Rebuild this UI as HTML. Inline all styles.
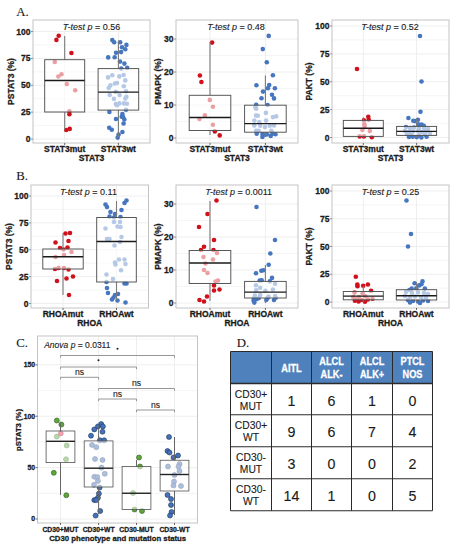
<!DOCTYPE html>
<html><head><meta charset="utf-8"><style>
html,body{margin:0;padding:0;background:#fff;}
body{width:456px;height:550px;overflow:hidden;position:relative;}
svg{position:absolute;left:0;top:0;font-family:"Liberation Sans",sans-serif;}
text{stroke:#1a1a1a;stroke-width:0.28px;}
text.w{stroke:#fff;}
text.n{stroke-width:0.12px;}
</style></head><body>
<svg width="456" height="550" viewBox="0 0 456 550">
<text x="16.2" y="16.0" class="n" font-family="Liberation Serif, serif" font-size="12.8" fill="#1a1a1a">A.</text>
<rect x="33" y="20" width="117" height="123" fill="#fff"/>
<line x1="33" x2="150" y1="125.5625" y2="125.5625" stroke="#eeeeee" stroke-width="0.6"/>
<line x1="33" x2="150" y1="98.6875" y2="98.6875" stroke="#eeeeee" stroke-width="0.6"/>
<line x1="33" x2="150" y1="71.8125" y2="71.8125" stroke="#eeeeee" stroke-width="0.6"/>
<line x1="33" x2="150" y1="44.9375" y2="44.9375" stroke="#eeeeee" stroke-width="0.6"/>
<line x1="33" x2="150" y1="139.0" y2="139.0" stroke="#eeeeee" stroke-width="1"/>
<line x1="33" x2="150" y1="112.125" y2="112.125" stroke="#eeeeee" stroke-width="1"/>
<line x1="33" x2="150" y1="85.25" y2="85.25" stroke="#eeeeee" stroke-width="1"/>
<line x1="33" x2="150" y1="58.375" y2="58.375" stroke="#eeeeee" stroke-width="1"/>
<line x1="33" x2="150" y1="31.5" y2="31.5" stroke="#eeeeee" stroke-width="1"/>
<line x1="64.7" x2="64.7" y1="20" y2="143" stroke="#eeeeee" stroke-width="1"/>
<line x1="118.4" x2="118.4" y1="20" y2="143" stroke="#eeeeee" stroke-width="1"/>
<circle cx="58.7" cy="35.8" r="2.3" fill="#d0101a"/>
<circle cx="56.4" cy="39.9" r="2.3" fill="#d0101a"/>
<circle cx="71.4" cy="53" r="2.3" fill="#d0101a"/>
<circle cx="54.8" cy="62" r="2.3" fill="#d0101a"/>
<circle cx="61.5" cy="74.2" r="2.3" fill="#d0101a"/>
<circle cx="58.3" cy="76.5" r="2.3" fill="#d0101a"/>
<circle cx="66.8" cy="84.1" r="2.3" fill="#d0101a"/>
<circle cx="75.2" cy="90.2" r="2.3" fill="#d0101a"/>
<circle cx="69.4" cy="111.4" r="2.3" fill="#d0101a"/>
<circle cx="69.4" cy="114.3" r="2.3" fill="#d0101a"/>
<circle cx="66.2" cy="130" r="2.3" fill="#d0101a"/>
<circle cx="69.7" cy="128.9" r="2.3" fill="#d0101a"/>
<circle cx="112.3" cy="40.1" r="2.3" fill="#4676c0"/>
<circle cx="114.2" cy="42.3" r="2.3" fill="#4676c0"/>
<circle cx="120.2" cy="42.3" r="2.3" fill="#4676c0"/>
<circle cx="126.4" cy="44.9" r="2.3" fill="#4676c0"/>
<circle cx="122" cy="47.3" r="2.3" fill="#4676c0"/>
<circle cx="125.3" cy="49.3" r="2.3" fill="#4676c0"/>
<circle cx="121.1" cy="52.1" r="2.3" fill="#4676c0"/>
<circle cx="116.1" cy="52.8" r="2.3" fill="#4676c0"/>
<circle cx="108.2" cy="57.4" r="2.3" fill="#4676c0"/>
<circle cx="114.7" cy="57.2" r="2.3" fill="#4676c0"/>
<circle cx="120" cy="61.6" r="2.3" fill="#4676c0"/>
<circle cx="124.4" cy="63.6" r="2.3" fill="#4676c0"/>
<circle cx="121.3" cy="68.6" r="2.3" fill="#4676c0"/>
<circle cx="127.2" cy="67.9" r="2.3" fill="#4676c0"/>
<circle cx="108" cy="77.4" r="2.3" fill="#4676c0"/>
<circle cx="112.3" cy="75.2" r="2.3" fill="#4676c0"/>
<circle cx="119.3" cy="76.4" r="2.3" fill="#4676c0"/>
<circle cx="123.6" cy="75" r="2.3" fill="#4676c0"/>
<circle cx="125.3" cy="80.4" r="2.3" fill="#4676c0"/>
<circle cx="114.9" cy="83.5" r="2.3" fill="#4676c0"/>
<circle cx="117" cy="83" r="2.3" fill="#4676c0"/>
<circle cx="110.4" cy="85.4" r="2.3" fill="#4676c0"/>
<circle cx="108.7" cy="88" r="2.3" fill="#4676c0"/>
<circle cx="123.8" cy="86.3" r="2.3" fill="#4676c0"/>
<circle cx="115.8" cy="91.8" r="2.3" fill="#4676c0"/>
<circle cx="126" cy="91.3" r="2.3" fill="#4676c0"/>
<circle cx="109.7" cy="94.9" r="2.3" fill="#4676c0"/>
<circle cx="119.6" cy="95.1" r="2.3" fill="#4676c0"/>
<circle cx="126.4" cy="96.7" r="2.3" fill="#4676c0"/>
<circle cx="113.9" cy="98.9" r="2.3" fill="#4676c0"/>
<circle cx="125.3" cy="98.6" r="2.3" fill="#4676c0"/>
<circle cx="115.8" cy="104.1" r="2.3" fill="#4676c0"/>
<circle cx="119.4" cy="103.4" r="2.3" fill="#4676c0"/>
<circle cx="117" cy="105.3" r="2.3" fill="#4676c0"/>
<circle cx="123.8" cy="103.4" r="2.3" fill="#4676c0"/>
<circle cx="126.9" cy="103.8" r="2.3" fill="#4676c0"/>
<circle cx="126" cy="109.8" r="2.3" fill="#4676c0"/>
<circle cx="109.4" cy="111.9" r="2.3" fill="#4676c0"/>
<circle cx="122.4" cy="114" r="2.3" fill="#4676c0"/>
<circle cx="121.7" cy="116.8" r="2.3" fill="#4676c0"/>
<circle cx="122.9" cy="116.6" r="2.3" fill="#4676c0"/>
<circle cx="116" cy="119" r="2.3" fill="#4676c0"/>
<circle cx="124.3" cy="119.4" r="2.3" fill="#4676c0"/>
<circle cx="123.6" cy="123.5" r="2.3" fill="#4676c0"/>
<circle cx="109.2" cy="127.7" r="2.3" fill="#4676c0"/>
<circle cx="111.8" cy="129.8" r="2.3" fill="#4676c0"/>
<circle cx="122.4" cy="132" r="2.3" fill="#4676c0"/>
<circle cx="118.6" cy="134.6" r="2.3" fill="#4676c0"/>
<circle cx="117.7" cy="137.6" r="2.3" fill="#4676c0"/>
<line x1="64.7" x2="64.7" y1="36" y2="59.7" stroke="#7a7a7a" stroke-width="1.1"/>
<line x1="64.7" x2="64.7" y1="112" y2="130" stroke="#7a7a7a" stroke-width="1.1"/>
<rect x="44.7" y="59.7" width="40" height="52.3" fill="#fff" fill-opacity="0.6" stroke="#505050" stroke-width="0.95"/>
<line x1="44.7" x2="84.7" y1="80.5" y2="80.5" stroke="#1a1a1a" stroke-width="1.4"/>
<line x1="118.4" x2="118.4" y1="40.4" y2="68.6" stroke="#7a7a7a" stroke-width="1.1"/>
<line x1="118.4" x2="118.4" y1="110.1" y2="137" stroke="#7a7a7a" stroke-width="1.1"/>
<rect x="98.10000000000001" y="68.6" width="40.6" height="41.5" fill="#fff" fill-opacity="0.6" stroke="#505050" stroke-width="0.95"/>
<line x1="98.10000000000001" x2="138.70000000000002" y1="92.1" y2="92.1" stroke="#1a1a1a" stroke-width="1.4"/>
<rect x="33" y="20" width="117" height="123" fill="none" stroke="#c4c4c4" stroke-width="1"/>
<line x1="31" x2="33" y1="139.0" y2="139.0" stroke="#777" stroke-width="0.8"/>
<text x="30.4" y="142.0" font-size="8.5" font-weight="bold" text-anchor="end" fill="#1a1a1a">0</text>
<line x1="31" x2="33" y1="112.125" y2="112.125" stroke="#777" stroke-width="0.8"/>
<text x="30.4" y="115.125" font-size="8.5" font-weight="bold" text-anchor="end" fill="#1a1a1a">25</text>
<line x1="31" x2="33" y1="85.25" y2="85.25" stroke="#777" stroke-width="0.8"/>
<text x="30.4" y="88.25" font-size="8.5" font-weight="bold" text-anchor="end" fill="#1a1a1a">50</text>
<line x1="31" x2="33" y1="58.375" y2="58.375" stroke="#777" stroke-width="0.8"/>
<text x="30.4" y="61.375" font-size="8.5" font-weight="bold" text-anchor="end" fill="#1a1a1a">75</text>
<line x1="31" x2="33" y1="31.5" y2="31.5" stroke="#777" stroke-width="0.8"/>
<text x="30.4" y="34.5" font-size="8.5" font-weight="bold" text-anchor="end" fill="#1a1a1a">100</text>
<line x1="64.7" x2="64.7" y1="143" y2="145" stroke="#444" stroke-width="0.8"/>
<line x1="118.4" x2="118.4" y1="143" y2="145" stroke="#444" stroke-width="0.8"/>
<text class="n" x="91.5" y="29.9" font-size="9" text-anchor="middle" fill="#1a1a1a"><tspan font-style="italic">T-test p</tspan> = 0.56</text>
<text transform="translate(14,81.5) rotate(-90)" font-size="8.5" font-weight="bold" text-anchor="middle" fill="#1a1a1a">PSTAT3 (%)</text>
<text x="64.7" y="152" font-size="8.5" font-weight="bold" text-anchor="middle" fill="#1a1a1a">STAT3mut</text>
<text x="118.4" y="152" font-size="8.5" font-weight="bold" text-anchor="middle" fill="#1a1a1a">STAT3wt</text>
<text x="91.5" y="161" font-size="8.5" font-weight="bold" text-anchor="middle" fill="#1a1a1a">STAT3</text>
<rect x="176" y="20" width="122" height="123" fill="#fff"/>
<line x1="176" x2="298" y1="121.5" y2="121.5" stroke="#eeeeee" stroke-width="0.6"/>
<line x1="176" x2="298" y1="88.5" y2="88.5" stroke="#eeeeee" stroke-width="0.6"/>
<line x1="176" x2="298" y1="55.5" y2="55.5" stroke="#eeeeee" stroke-width="0.6"/>
<line x1="176" x2="298" y1="138.0" y2="138.0" stroke="#eeeeee" stroke-width="1"/>
<line x1="176" x2="298" y1="105.0" y2="105.0" stroke="#eeeeee" stroke-width="1"/>
<line x1="176" x2="298" y1="72.0" y2="72.0" stroke="#eeeeee" stroke-width="1"/>
<line x1="176" x2="298" y1="39.0" y2="39.0" stroke="#eeeeee" stroke-width="1"/>
<line x1="210" x2="210" y1="20" y2="143" stroke="#eeeeee" stroke-width="1"/>
<line x1="265.4" x2="265.4" y1="20" y2="143" stroke="#eeeeee" stroke-width="1"/>
<circle cx="212.1" cy="42.6" r="2.3" fill="#d0101a"/>
<circle cx="199.9" cy="75.5" r="2.3" fill="#d0101a"/>
<circle cx="201.4" cy="82" r="2.3" fill="#d0101a"/>
<circle cx="209.8" cy="99.9" r="2.3" fill="#d0101a"/>
<circle cx="212.9" cy="106.8" r="2.3" fill="#d0101a"/>
<circle cx="204.9" cy="115.2" r="2.3" fill="#d0101a"/>
<circle cx="199.5" cy="119" r="2.3" fill="#d0101a"/>
<circle cx="212.9" cy="124.7" r="2.3" fill="#d0101a"/>
<circle cx="214.8" cy="131.4" r="2.3" fill="#d0101a"/>
<circle cx="219.7" cy="135.4" r="2.3" fill="#d0101a"/>
<circle cx="268.7" cy="35.9" r="2.3" fill="#4676c0"/>
<circle cx="262.8" cy="49.1" r="2.3" fill="#4676c0"/>
<circle cx="266.8" cy="62.2" r="2.3" fill="#4676c0"/>
<circle cx="272.9" cy="75.2" r="2.3" fill="#4676c0"/>
<circle cx="256.4" cy="85.3" r="2.3" fill="#4676c0"/>
<circle cx="269.2" cy="85" r="2.3" fill="#4676c0"/>
<circle cx="267.9" cy="88.3" r="2.3" fill="#4676c0"/>
<circle cx="274.9" cy="88.3" r="2.3" fill="#4676c0"/>
<circle cx="263" cy="91.6" r="2.3" fill="#4676c0"/>
<circle cx="272" cy="94.7" r="2.3" fill="#4676c0"/>
<circle cx="261.5" cy="98.2" r="2.3" fill="#4676c0"/>
<circle cx="274" cy="98.4" r="2.3" fill="#4676c0"/>
<circle cx="256.2" cy="104.8" r="2.3" fill="#4676c0"/>
<circle cx="267.6" cy="105" r="2.3" fill="#4676c0"/>
<circle cx="255.4" cy="107.6" r="2.3" fill="#4676c0"/>
<circle cx="256.2" cy="108.7" r="2.3" fill="#4676c0"/>
<circle cx="265.9" cy="112.9" r="2.3" fill="#4676c0"/>
<circle cx="256" cy="115.5" r="2.3" fill="#4676c0"/>
<circle cx="257.8" cy="115.7" r="2.3" fill="#4676c0"/>
<circle cx="272.9" cy="117.1" r="2.3" fill="#4676c0"/>
<circle cx="276.2" cy="116.4" r="2.3" fill="#4676c0"/>
<circle cx="254.3" cy="120.6" r="2.3" fill="#4676c0"/>
<circle cx="259.3" cy="122.1" r="2.3" fill="#4676c0"/>
<circle cx="266.1" cy="120.6" r="2.3" fill="#4676c0"/>
<circle cx="254.3" cy="125.4" r="2.3" fill="#4676c0"/>
<circle cx="260.2" cy="125.8" r="2.3" fill="#4676c0"/>
<circle cx="265" cy="127.1" r="2.3" fill="#4676c0"/>
<circle cx="269.8" cy="125.8" r="2.3" fill="#4676c0"/>
<circle cx="274" cy="125.4" r="2.3" fill="#4676c0"/>
<circle cx="256.2" cy="130.7" r="2.3" fill="#4676c0"/>
<circle cx="258.6" cy="130.7" r="2.3" fill="#4676c0"/>
<circle cx="271.4" cy="130.7" r="2.3" fill="#4676c0"/>
<circle cx="256.7" cy="133.7" r="2.3" fill="#4676c0"/>
<circle cx="262.4" cy="134" r="2.3" fill="#4676c0"/>
<circle cx="264.1" cy="134.8" r="2.3" fill="#4676c0"/>
<circle cx="266.8" cy="134.4" r="2.3" fill="#4676c0"/>
<circle cx="262.4" cy="137" r="2.3" fill="#4676c0"/>
<circle cx="270.7" cy="135.9" r="2.3" fill="#4676c0"/>
<circle cx="272.7" cy="133.7" r="2.3" fill="#4676c0"/>
<circle cx="275.5" cy="134.2" r="2.3" fill="#4676c0"/>
<line x1="210" x2="210" y1="42.6" y2="95.3" stroke="#7a7a7a" stroke-width="1.1"/>
<line x1="210" x2="210" y1="130.5" y2="135" stroke="#7a7a7a" stroke-width="1.1"/>
<rect x="189.2" y="95.3" width="41.6" height="35.2" fill="#fff" fill-opacity="0.6" stroke="#505050" stroke-width="0.95"/>
<line x1="189.2" x2="230.8" y1="117.5" y2="117.5" stroke="#1a1a1a" stroke-width="1.4"/>
<line x1="265.4" x2="265.4" y1="75.4" y2="105.2" stroke="#7a7a7a" stroke-width="1.1"/>
<line x1="265.4" x2="265.4" y1="132.2" y2="137" stroke="#7a7a7a" stroke-width="1.1"/>
<rect x="244.59999999999997" y="105.2" width="41.6" height="26.999999999999986" fill="#fff" fill-opacity="0.6" stroke="#505050" stroke-width="0.95"/>
<line x1="244.59999999999997" x2="286.2" y1="123.6" y2="123.6" stroke="#1a1a1a" stroke-width="1.4"/>
<rect x="176" y="20" width="122" height="123" fill="none" stroke="#c4c4c4" stroke-width="1"/>
<line x1="174" x2="176" y1="138.0" y2="138.0" stroke="#777" stroke-width="0.8"/>
<text x="173.4" y="141.0" font-size="8.5" font-weight="bold" text-anchor="end" fill="#1a1a1a">0</text>
<line x1="174" x2="176" y1="105.0" y2="105.0" stroke="#777" stroke-width="0.8"/>
<text x="173.4" y="108.0" font-size="8.5" font-weight="bold" text-anchor="end" fill="#1a1a1a">10</text>
<line x1="174" x2="176" y1="72.0" y2="72.0" stroke="#777" stroke-width="0.8"/>
<text x="173.4" y="75.0" font-size="8.5" font-weight="bold" text-anchor="end" fill="#1a1a1a">20</text>
<line x1="174" x2="176" y1="39.0" y2="39.0" stroke="#777" stroke-width="0.8"/>
<text x="173.4" y="42.0" font-size="8.5" font-weight="bold" text-anchor="end" fill="#1a1a1a">30</text>
<line x1="210" x2="210" y1="143" y2="145" stroke="#444" stroke-width="0.8"/>
<line x1="265.4" x2="265.4" y1="143" y2="145" stroke="#444" stroke-width="0.8"/>
<text class="n" x="236" y="29.9" font-size="9" text-anchor="middle" fill="#1a1a1a"><tspan font-style="italic">T-test p</tspan> = 0.48</text>
<text transform="translate(161,81.5) rotate(-90)" font-size="8.5" font-weight="bold" text-anchor="middle" fill="#1a1a1a">PMAPK (%)</text>
<text x="210" y="152" font-size="8.5" font-weight="bold" text-anchor="middle" fill="#1a1a1a">STAT3mut</text>
<text x="265.4" y="152" font-size="8.5" font-weight="bold" text-anchor="middle" fill="#1a1a1a">STAT3wt</text>
<text x="237" y="161" font-size="8.5" font-weight="bold" text-anchor="middle" fill="#1a1a1a">STAT3</text>
<rect x="332" y="20" width="117" height="123" fill="#fff"/>
<line x1="332" x2="449" y1="123.5625" y2="123.5625" stroke="#eeeeee" stroke-width="0.6"/>
<line x1="332" x2="449" y1="95.6875" y2="95.6875" stroke="#eeeeee" stroke-width="0.6"/>
<line x1="332" x2="449" y1="67.8125" y2="67.8125" stroke="#eeeeee" stroke-width="0.6"/>
<line x1="332" x2="449" y1="39.9375" y2="39.9375" stroke="#eeeeee" stroke-width="0.6"/>
<line x1="332" x2="449" y1="137.5" y2="137.5" stroke="#eeeeee" stroke-width="1"/>
<line x1="332" x2="449" y1="109.625" y2="109.625" stroke="#eeeeee" stroke-width="1"/>
<line x1="332" x2="449" y1="81.75" y2="81.75" stroke="#eeeeee" stroke-width="1"/>
<line x1="332" x2="449" y1="53.875" y2="53.875" stroke="#eeeeee" stroke-width="1"/>
<line x1="332" x2="449" y1="26.0" y2="26.0" stroke="#eeeeee" stroke-width="1"/>
<line x1="363.3" x2="363.3" y1="20" y2="143" stroke="#eeeeee" stroke-width="1"/>
<line x1="416.6" x2="416.6" y1="20" y2="143" stroke="#eeeeee" stroke-width="1"/>
<circle cx="357" cy="69" r="2.3" fill="#d0101a"/>
<circle cx="368.3" cy="116.7" r="2.3" fill="#d0101a"/>
<circle cx="368.7" cy="119.7" r="2.3" fill="#d0101a"/>
<circle cx="363.9" cy="120.4" r="2.3" fill="#d0101a"/>
<circle cx="364.3" cy="124.3" r="2.3" fill="#d0101a"/>
<circle cx="364.6" cy="126.3" r="2.3" fill="#d0101a"/>
<circle cx="362.4" cy="130" r="2.3" fill="#d0101a"/>
<circle cx="369.8" cy="130.9" r="2.3" fill="#d0101a"/>
<circle cx="359.7" cy="136.4" r="2.3" fill="#d0101a"/>
<circle cx="363.9" cy="136.4" r="2.3" fill="#d0101a"/>
<circle cx="371.8" cy="137.3" r="2.3" fill="#d0101a"/>
<circle cx="420" cy="36" r="2.3" fill="#4676c0"/>
<circle cx="421.5" cy="81.5" r="2.3" fill="#4676c0"/>
<circle cx="420.5" cy="111.7" r="2.3" fill="#4676c0"/>
<circle cx="408.4" cy="118" r="2.3" fill="#4676c0"/>
<circle cx="413.3" cy="120.7" r="2.3" fill="#4676c0"/>
<circle cx="415" cy="121.1" r="2.3" fill="#4676c0"/>
<circle cx="417.9" cy="119.8" r="2.3" fill="#4676c0"/>
<circle cx="418.3" cy="124.4" r="2.3" fill="#4676c0"/>
<circle cx="421.6" cy="124.6" r="2.3" fill="#4676c0"/>
<circle cx="423.8" cy="125.7" r="2.3" fill="#4676c0"/>
<circle cx="406" cy="127" r="2.3" fill="#4676c0"/>
<circle cx="410" cy="128" r="2.3" fill="#4676c0"/>
<circle cx="414" cy="127.5" r="2.3" fill="#4676c0"/>
<circle cx="419" cy="128.5" r="2.3" fill="#4676c0"/>
<circle cx="424" cy="128" r="2.3" fill="#4676c0"/>
<circle cx="428" cy="129" r="2.3" fill="#4676c0"/>
<circle cx="405" cy="131" r="2.3" fill="#4676c0"/>
<circle cx="409" cy="132" r="2.3" fill="#4676c0"/>
<circle cx="413" cy="131.5" r="2.3" fill="#4676c0"/>
<circle cx="418" cy="131" r="2.3" fill="#4676c0"/>
<circle cx="422" cy="132" r="2.3" fill="#4676c0"/>
<circle cx="426" cy="131.5" r="2.3" fill="#4676c0"/>
<circle cx="407" cy="134" r="2.3" fill="#4676c0"/>
<circle cx="430" cy="133" r="2.3" fill="#4676c0"/>
<circle cx="412.8" cy="136.7" r="2.3" fill="#4676c0"/>
<circle cx="416.8" cy="137.1" r="2.3" fill="#4676c0"/>
<circle cx="421.4" cy="137.5" r="2.3" fill="#4676c0"/>
<circle cx="426.6" cy="136.7" r="2.3" fill="#4676c0"/>
<circle cx="411.3" cy="134.7" r="2.3" fill="#4676c0"/>
<circle cx="424.9" cy="134.5" r="2.3" fill="#4676c0"/>
<circle cx="409" cy="137" r="2.3" fill="#4676c0"/>
<circle cx="419" cy="135" r="2.3" fill="#4676c0"/>
<line x1="363.3" x2="363.3" y1="117.3" y2="120.4" stroke="#7a7a7a" stroke-width="1.1"/>
<line x1="363.3" x2="363.3" y1="136.4" y2="137.5" stroke="#7a7a7a" stroke-width="1.1"/>
<rect x="343.3" y="120.4" width="40" height="16.0" fill="#fff" fill-opacity="0.6" stroke="#505050" stroke-width="0.95"/>
<line x1="343.3" x2="383.3" y1="128.3" y2="128.3" stroke="#1a1a1a" stroke-width="1.4"/>
<line x1="416.6" x2="416.6" y1="118.2" y2="126.4" stroke="#7a7a7a" stroke-width="1.1"/>
<line x1="416.6" x2="416.6" y1="135.4" y2="137.5" stroke="#7a7a7a" stroke-width="1.1"/>
<rect x="396.6" y="126.4" width="40" height="9.0" fill="#fff" fill-opacity="0.6" stroke="#505050" stroke-width="0.95"/>
<line x1="396.6" x2="436.6" y1="131.4" y2="131.4" stroke="#1a1a1a" stroke-width="1.4"/>
<rect x="332" y="20" width="117" height="123" fill="none" stroke="#c4c4c4" stroke-width="1"/>
<line x1="330" x2="332" y1="137.5" y2="137.5" stroke="#777" stroke-width="0.8"/>
<text x="329.4" y="140.5" font-size="8.5" font-weight="bold" text-anchor="end" fill="#1a1a1a">0</text>
<line x1="330" x2="332" y1="109.625" y2="109.625" stroke="#777" stroke-width="0.8"/>
<text x="329.4" y="112.625" font-size="8.5" font-weight="bold" text-anchor="end" fill="#1a1a1a">25</text>
<line x1="330" x2="332" y1="81.75" y2="81.75" stroke="#777" stroke-width="0.8"/>
<text x="329.4" y="84.75" font-size="8.5" font-weight="bold" text-anchor="end" fill="#1a1a1a">50</text>
<line x1="330" x2="332" y1="53.875" y2="53.875" stroke="#777" stroke-width="0.8"/>
<text x="329.4" y="56.875" font-size="8.5" font-weight="bold" text-anchor="end" fill="#1a1a1a">75</text>
<line x1="330" x2="332" y1="26.0" y2="26.0" stroke="#777" stroke-width="0.8"/>
<text x="329.4" y="29.0" font-size="8.5" font-weight="bold" text-anchor="end" fill="#1a1a1a">100</text>
<line x1="363.3" x2="363.3" y1="143" y2="145" stroke="#444" stroke-width="0.8"/>
<line x1="416.6" x2="416.6" y1="143" y2="145" stroke="#444" stroke-width="0.8"/>
<text class="n" x="390" y="29.9" font-size="9" text-anchor="middle" fill="#1a1a1a"><tspan font-style="italic">T-test p</tspan> = 0.52</text>
<text transform="translate(311.8,81.5) rotate(-90)" font-size="8.5" font-weight="bold" text-anchor="middle" fill="#1a1a1a">PAKT (%)</text>
<text x="363.3" y="152" font-size="8.5" font-weight="bold" text-anchor="middle" fill="#1a1a1a">STAT3mut</text>
<text x="416.6" y="152" font-size="8.5" font-weight="bold" text-anchor="middle" fill="#1a1a1a">STAT3wt</text>
<text x="390.5" y="161" font-size="8.5" font-weight="bold" text-anchor="middle" fill="#1a1a1a">STAT3</text>
<text x="16.2" y="179.6" class="n" font-family="Liberation Serif, serif" font-size="12.8" fill="#1a1a1a">B.</text>
<rect x="31" y="185" width="117.5" height="123" fill="#fff"/>
<line x1="31" x2="148.5" y1="290.0625" y2="290.0625" stroke="#eeeeee" stroke-width="0.6"/>
<line x1="31" x2="148.5" y1="263.1875" y2="263.1875" stroke="#eeeeee" stroke-width="0.6"/>
<line x1="31" x2="148.5" y1="236.3125" y2="236.3125" stroke="#eeeeee" stroke-width="0.6"/>
<line x1="31" x2="148.5" y1="209.4375" y2="209.4375" stroke="#eeeeee" stroke-width="0.6"/>
<line x1="31" x2="148.5" y1="303.5" y2="303.5" stroke="#eeeeee" stroke-width="1"/>
<line x1="31" x2="148.5" y1="276.625" y2="276.625" stroke="#eeeeee" stroke-width="1"/>
<line x1="31" x2="148.5" y1="249.75" y2="249.75" stroke="#eeeeee" stroke-width="1"/>
<line x1="31" x2="148.5" y1="222.875" y2="222.875" stroke="#eeeeee" stroke-width="1"/>
<line x1="31" x2="148.5" y1="196.0" y2="196.0" stroke="#eeeeee" stroke-width="1"/>
<line x1="63" x2="63" y1="185" y2="308" stroke="#eeeeee" stroke-width="1"/>
<line x1="116.5" x2="116.5" y1="185" y2="308" stroke="#eeeeee" stroke-width="1"/>
<circle cx="65.5" cy="233.5" r="2.3" fill="#d0101a"/>
<circle cx="70" cy="233" r="2.3" fill="#d0101a"/>
<circle cx="68.5" cy="241" r="2.3" fill="#d0101a"/>
<circle cx="55.5" cy="242.5" r="2.3" fill="#d0101a"/>
<circle cx="60" cy="248" r="2.3" fill="#d0101a"/>
<circle cx="67.5" cy="247.5" r="2.3" fill="#d0101a"/>
<circle cx="63.5" cy="249.5" r="2.3" fill="#d0101a"/>
<circle cx="71.5" cy="252" r="2.3" fill="#d0101a"/>
<circle cx="55.5" cy="257" r="2.3" fill="#d0101a"/>
<circle cx="64" cy="255" r="2.3" fill="#d0101a"/>
<circle cx="55" cy="269" r="2.3" fill="#d0101a"/>
<circle cx="58.5" cy="268" r="2.3" fill="#d0101a"/>
<circle cx="64" cy="268" r="2.3" fill="#d0101a"/>
<circle cx="68.5" cy="269.5" r="2.3" fill="#d0101a"/>
<circle cx="73" cy="276.5" r="2.3" fill="#d0101a"/>
<circle cx="66.5" cy="278.5" r="2.3" fill="#d0101a"/>
<circle cx="57" cy="281" r="2.3" fill="#d0101a"/>
<circle cx="69" cy="295" r="2.3" fill="#d0101a"/>
<circle cx="126.5" cy="200.5" r="2.3" fill="#4676c0"/>
<circle cx="124.5" cy="203" r="2.3" fill="#4676c0"/>
<circle cx="105.5" cy="204.5" r="2.3" fill="#4676c0"/>
<circle cx="107" cy="207" r="2.3" fill="#4676c0"/>
<circle cx="121.5" cy="210" r="2.3" fill="#4676c0"/>
<circle cx="110.5" cy="212" r="2.3" fill="#4676c0"/>
<circle cx="115" cy="214" r="2.3" fill="#4676c0"/>
<circle cx="109.5" cy="216.5" r="2.3" fill="#4676c0"/>
<circle cx="120.5" cy="217" r="2.3" fill="#4676c0"/>
<circle cx="114" cy="217.5" r="2.3" fill="#4676c0"/>
<circle cx="114" cy="222" r="2.3" fill="#4676c0"/>
<circle cx="120" cy="222" r="2.3" fill="#4676c0"/>
<circle cx="117.5" cy="226.5" r="2.3" fill="#4676c0"/>
<circle cx="120.5" cy="227" r="2.3" fill="#4676c0"/>
<circle cx="105.5" cy="228.5" r="2.3" fill="#4676c0"/>
<circle cx="107" cy="239" r="2.3" fill="#4676c0"/>
<circle cx="109.5" cy="239" r="2.3" fill="#4676c0"/>
<circle cx="121.5" cy="237" r="2.3" fill="#4676c0"/>
<circle cx="114.5" cy="245.5" r="2.3" fill="#4676c0"/>
<circle cx="120" cy="242" r="2.3" fill="#4676c0"/>
<circle cx="119" cy="259.5" r="2.3" fill="#4676c0"/>
<circle cx="124.5" cy="259.5" r="2.3" fill="#4676c0"/>
<circle cx="115" cy="262.5" r="2.3" fill="#4676c0"/>
<circle cx="115.5" cy="264.5" r="2.3" fill="#4676c0"/>
<circle cx="125.5" cy="264" r="2.3" fill="#4676c0"/>
<circle cx="106.5" cy="274.5" r="2.3" fill="#4676c0"/>
<circle cx="113" cy="279" r="2.3" fill="#4676c0"/>
<circle cx="121" cy="270.3" r="2.3" fill="#4676c0"/>
<circle cx="106.5" cy="282" r="2.3" fill="#4676c0"/>
<circle cx="107" cy="288" r="2.3" fill="#4676c0"/>
<circle cx="108" cy="293" r="2.3" fill="#4676c0"/>
<circle cx="124.5" cy="283.5" r="2.3" fill="#4676c0"/>
<circle cx="126.5" cy="283.5" r="2.3" fill="#4676c0"/>
<circle cx="118" cy="294" r="2.3" fill="#4676c0"/>
<circle cx="115" cy="295" r="2.3" fill="#4676c0"/>
<circle cx="113.5" cy="297.5" r="2.3" fill="#4676c0"/>
<circle cx="112" cy="299.5" r="2.3" fill="#4676c0"/>
<circle cx="117.5" cy="300.5" r="2.3" fill="#4676c0"/>
<circle cx="125.5" cy="302.5" r="2.3" fill="#4676c0"/>
<line x1="63" x2="63" y1="233" y2="249" stroke="#7a7a7a" stroke-width="1.1"/>
<line x1="63" x2="63" y1="269" y2="295" stroke="#7a7a7a" stroke-width="1.1"/>
<rect x="42.8" y="249" width="40.4" height="20" fill="#fff" fill-opacity="0.6" stroke="#505050" stroke-width="0.95"/>
<line x1="42.8" x2="83.2" y1="256.7" y2="256.7" stroke="#1a1a1a" stroke-width="1.4"/>
<line x1="116.5" x2="116.5" y1="201" y2="217.5" stroke="#7a7a7a" stroke-width="1.1"/>
<line x1="116.5" x2="116.5" y1="282" y2="300" stroke="#7a7a7a" stroke-width="1.1"/>
<rect x="96.7" y="217.5" width="39.6" height="64.5" fill="#fff" fill-opacity="0.6" stroke="#505050" stroke-width="0.95"/>
<line x1="96.7" x2="136.3" y1="241.5" y2="241.5" stroke="#1a1a1a" stroke-width="1.4"/>
<rect x="31" y="185" width="117.5" height="123" fill="none" stroke="#c4c4c4" stroke-width="1"/>
<line x1="29" x2="31" y1="303.5" y2="303.5" stroke="#777" stroke-width="0.8"/>
<text x="28.4" y="306.5" font-size="8.5" font-weight="bold" text-anchor="end" fill="#1a1a1a">0</text>
<line x1="29" x2="31" y1="276.625" y2="276.625" stroke="#777" stroke-width="0.8"/>
<text x="28.4" y="279.625" font-size="8.5" font-weight="bold" text-anchor="end" fill="#1a1a1a">25</text>
<line x1="29" x2="31" y1="249.75" y2="249.75" stroke="#777" stroke-width="0.8"/>
<text x="28.4" y="252.75" font-size="8.5" font-weight="bold" text-anchor="end" fill="#1a1a1a">50</text>
<line x1="29" x2="31" y1="222.875" y2="222.875" stroke="#777" stroke-width="0.8"/>
<text x="28.4" y="225.875" font-size="8.5" font-weight="bold" text-anchor="end" fill="#1a1a1a">75</text>
<line x1="29" x2="31" y1="196.0" y2="196.0" stroke="#777" stroke-width="0.8"/>
<text x="28.4" y="199.0" font-size="8.5" font-weight="bold" text-anchor="end" fill="#1a1a1a">100</text>
<line x1="63" x2="63" y1="308" y2="310" stroke="#444" stroke-width="0.8"/>
<line x1="116.5" x2="116.5" y1="308" y2="310" stroke="#444" stroke-width="0.8"/>
<text class="n" x="88.5" y="195" font-size="9" text-anchor="middle" fill="#1a1a1a"><tspan font-style="italic">T-test p</tspan> = 0.11</text>
<text transform="translate(11.8,246.5) rotate(-90)" font-size="8.5" font-weight="bold" text-anchor="middle" fill="#1a1a1a">PSTAT3 (%)</text>
<text x="63" y="317" font-size="8.5" font-weight="bold" text-anchor="middle" fill="#1a1a1a">RHOAmut</text>
<text x="116.5" y="317" font-size="8.5" font-weight="bold" text-anchor="middle" fill="#1a1a1a">RHOAwt</text>
<text x="89.75" y="326" font-size="8.5" font-weight="bold" text-anchor="middle" fill="#1a1a1a">RHOA</text>
<rect x="176" y="185" width="122" height="123" fill="#fff"/>
<line x1="176" x2="298" y1="286.5" y2="286.5" stroke="#eeeeee" stroke-width="0.6"/>
<line x1="176" x2="298" y1="253.5" y2="253.5" stroke="#eeeeee" stroke-width="0.6"/>
<line x1="176" x2="298" y1="220.5" y2="220.5" stroke="#eeeeee" stroke-width="0.6"/>
<line x1="176" x2="298" y1="303.0" y2="303.0" stroke="#eeeeee" stroke-width="1"/>
<line x1="176" x2="298" y1="270.0" y2="270.0" stroke="#eeeeee" stroke-width="1"/>
<line x1="176" x2="298" y1="237.0" y2="237.0" stroke="#eeeeee" stroke-width="1"/>
<line x1="176" x2="298" y1="204.0" y2="204.0" stroke="#eeeeee" stroke-width="1"/>
<line x1="210" x2="210" y1="185" y2="308" stroke="#eeeeee" stroke-width="1"/>
<line x1="265.4" x2="265.4" y1="185" y2="308" stroke="#eeeeee" stroke-width="1"/>
<circle cx="216.5" cy="200.5" r="2.3" fill="#d0101a"/>
<circle cx="207.5" cy="214" r="2.3" fill="#d0101a"/>
<circle cx="199" cy="227" r="2.3" fill="#d0101a"/>
<circle cx="214" cy="240" r="2.3" fill="#d0101a"/>
<circle cx="204" cy="246.75" r="2.3" fill="#d0101a"/>
<circle cx="201" cy="250" r="2.3" fill="#d0101a"/>
<circle cx="213.5" cy="250" r="2.3" fill="#d0101a"/>
<circle cx="217" cy="253" r="2.3" fill="#d0101a"/>
<circle cx="203.5" cy="257" r="2.3" fill="#d0101a"/>
<circle cx="213" cy="259.5" r="2.3" fill="#d0101a"/>
<circle cx="205.5" cy="263.5" r="2.3" fill="#d0101a"/>
<circle cx="204" cy="270" r="2.3" fill="#d0101a"/>
<circle cx="207.5" cy="273" r="2.3" fill="#d0101a"/>
<circle cx="215.5" cy="281.5" r="2.3" fill="#d0101a"/>
<circle cx="218" cy="280.5" r="2.3" fill="#d0101a"/>
<circle cx="214" cy="285.5" r="2.3" fill="#d0101a"/>
<circle cx="219.5" cy="289.5" r="2.3" fill="#d0101a"/>
<circle cx="214" cy="290.5" r="2.3" fill="#d0101a"/>
<circle cx="207" cy="296.5" r="2.3" fill="#d0101a"/>
<circle cx="199.5" cy="300" r="2.3" fill="#d0101a"/>
<circle cx="204" cy="301.5" r="2.3" fill="#d0101a"/>
<circle cx="256.5" cy="207" r="2.3" fill="#4676c0"/>
<circle cx="275" cy="240" r="2.3" fill="#4676c0"/>
<circle cx="270.3" cy="253.5" r="2.3" fill="#4676c0"/>
<circle cx="268.7" cy="264.7" r="2.3" fill="#4676c0"/>
<circle cx="261.3" cy="270.8" r="2.3" fill="#4676c0"/>
<circle cx="263.5" cy="270.2" r="2.3" fill="#4676c0"/>
<circle cx="256" cy="273.2" r="2.3" fill="#4676c0"/>
<circle cx="272" cy="277.9" r="2.3" fill="#4676c0"/>
<circle cx="259.7" cy="280.5" r="2.3" fill="#4676c0"/>
<circle cx="261.7" cy="280.3" r="2.3" fill="#4676c0"/>
<circle cx="269.8" cy="281.4" r="2.3" fill="#4676c0"/>
<circle cx="275.1" cy="283.8" r="2.3" fill="#4676c0"/>
<circle cx="256" cy="285.3" r="2.3" fill="#4676c0"/>
<circle cx="260.2" cy="287.7" r="2.3" fill="#4676c0"/>
<circle cx="256.2" cy="290.4" r="2.3" fill="#4676c0"/>
<circle cx="265.4" cy="290.8" r="2.3" fill="#4676c0"/>
<circle cx="272.9" cy="289.5" r="2.3" fill="#4676c0"/>
<circle cx="254.9" cy="295.6" r="2.3" fill="#4676c0"/>
<circle cx="260.2" cy="295" r="2.3" fill="#4676c0"/>
<circle cx="268.5" cy="296.5" r="2.3" fill="#4676c0"/>
<circle cx="275.1" cy="296.1" r="2.3" fill="#4676c0"/>
<circle cx="254" cy="298.2" r="2.3" fill="#4676c0"/>
<circle cx="256.4" cy="299.3" r="2.3" fill="#4676c0"/>
<circle cx="258.6" cy="298.2" r="2.3" fill="#4676c0"/>
<circle cx="254.3" cy="302.6" r="2.3" fill="#4676c0"/>
<circle cx="266.3" cy="300" r="2.3" fill="#4676c0"/>
<circle cx="267.4" cy="298.2" r="2.3" fill="#4676c0"/>
<circle cx="274" cy="300" r="2.3" fill="#4676c0"/>
<circle cx="275.7" cy="297.8" r="2.3" fill="#4676c0"/>
<circle cx="253.6" cy="300.4" r="2.3" fill="#4676c0"/>
<line x1="210" x2="210" y1="201" y2="250.5" stroke="#7a7a7a" stroke-width="1.1"/>
<line x1="210" x2="210" y1="283.5" y2="301" stroke="#7a7a7a" stroke-width="1.1"/>
<rect x="189.2" y="250.5" width="41.6" height="33.0" fill="#fff" fill-opacity="0.6" stroke="#505050" stroke-width="0.95"/>
<line x1="189.2" x2="230.8" y1="263" y2="263" stroke="#1a1a1a" stroke-width="1.4"/>
<line x1="265.4" x2="265.4" y1="264.9" y2="281.4" stroke="#7a7a7a" stroke-width="1.1"/>
<line x1="265.4" x2="265.4" y1="298" y2="303" stroke="#7a7a7a" stroke-width="1.1"/>
<rect x="244.59999999999997" y="281.4" width="41.6" height="16.600000000000023" fill="#fff" fill-opacity="0.6" stroke="#505050" stroke-width="0.95"/>
<line x1="244.59999999999997" x2="286.2" y1="292.1" y2="292.1" stroke="#1a1a1a" stroke-width="1.4"/>
<rect x="176" y="185" width="122" height="123" fill="none" stroke="#c4c4c4" stroke-width="1"/>
<line x1="174" x2="176" y1="303.0" y2="303.0" stroke="#777" stroke-width="0.8"/>
<text x="173.4" y="306.0" font-size="8.5" font-weight="bold" text-anchor="end" fill="#1a1a1a">0</text>
<line x1="174" x2="176" y1="270.0" y2="270.0" stroke="#777" stroke-width="0.8"/>
<text x="173.4" y="273.0" font-size="8.5" font-weight="bold" text-anchor="end" fill="#1a1a1a">10</text>
<line x1="174" x2="176" y1="237.0" y2="237.0" stroke="#777" stroke-width="0.8"/>
<text x="173.4" y="240.0" font-size="8.5" font-weight="bold" text-anchor="end" fill="#1a1a1a">20</text>
<line x1="174" x2="176" y1="204.0" y2="204.0" stroke="#777" stroke-width="0.8"/>
<text x="173.4" y="207.0" font-size="8.5" font-weight="bold" text-anchor="end" fill="#1a1a1a">30</text>
<line x1="210" x2="210" y1="308" y2="310" stroke="#444" stroke-width="0.8"/>
<line x1="265.4" x2="265.4" y1="308" y2="310" stroke="#444" stroke-width="0.8"/>
<text class="n" x="238.7" y="195" font-size="9" text-anchor="middle" fill="#1a1a1a"><tspan font-style="italic">T-test p</tspan> = 0.0011</text>
<text transform="translate(161,246.5) rotate(-90)" font-size="8.5" font-weight="bold" text-anchor="middle" fill="#1a1a1a">PMAPK (%)</text>
<text x="210" y="317" font-size="8.5" font-weight="bold" text-anchor="middle" fill="#1a1a1a">RHOAmut</text>
<text x="265.4" y="317" font-size="8.5" font-weight="bold" text-anchor="middle" fill="#1a1a1a">RHOAwt</text>
<text x="237" y="326" font-size="8.5" font-weight="bold" text-anchor="middle" fill="#1a1a1a">RHOA</text>
<rect x="332" y="185" width="117" height="123" fill="#fff"/>
<line x1="332" x2="449" y1="288.125" y2="288.125" stroke="#eeeeee" stroke-width="0.6"/>
<line x1="332" x2="449" y1="260.375" y2="260.375" stroke="#eeeeee" stroke-width="0.6"/>
<line x1="332" x2="449" y1="232.625" y2="232.625" stroke="#eeeeee" stroke-width="0.6"/>
<line x1="332" x2="449" y1="204.875" y2="204.875" stroke="#eeeeee" stroke-width="0.6"/>
<line x1="332" x2="449" y1="302.0" y2="302.0" stroke="#eeeeee" stroke-width="1"/>
<line x1="332" x2="449" y1="274.25" y2="274.25" stroke="#eeeeee" stroke-width="1"/>
<line x1="332" x2="449" y1="246.5" y2="246.5" stroke="#eeeeee" stroke-width="1"/>
<line x1="332" x2="449" y1="218.75" y2="218.75" stroke="#eeeeee" stroke-width="1"/>
<line x1="332" x2="449" y1="191.0" y2="191.0" stroke="#eeeeee" stroke-width="1"/>
<line x1="363.3" x2="363.3" y1="185" y2="308" stroke="#eeeeee" stroke-width="1"/>
<line x1="416.5" x2="416.5" y1="185" y2="308" stroke="#eeeeee" stroke-width="1"/>
<circle cx="355.8" cy="276.8" r="2.3" fill="#d0101a"/>
<circle cx="357.3" cy="284.5" r="2.3" fill="#d0101a"/>
<circle cx="357.5" cy="286.2" r="2.3" fill="#d0101a"/>
<circle cx="363.2" cy="285.8" r="2.3" fill="#d0101a"/>
<circle cx="367.9" cy="284.5" r="2.3" fill="#d0101a"/>
<circle cx="371.1" cy="290.8" r="2.3" fill="#d0101a"/>
<circle cx="354.5" cy="292.6" r="2.3" fill="#d0101a"/>
<circle cx="362.6" cy="293.2" r="2.3" fill="#d0101a"/>
<circle cx="365.2" cy="296.3" r="2.3" fill="#d0101a"/>
<circle cx="353.2" cy="297" r="2.3" fill="#d0101a"/>
<circle cx="358.9" cy="297" r="2.3" fill="#d0101a"/>
<circle cx="372.5" cy="298.7" r="2.3" fill="#d0101a"/>
<circle cx="367.9" cy="299.4" r="2.3" fill="#d0101a"/>
<circle cx="354.9" cy="300.7" r="2.3" fill="#d0101a"/>
<circle cx="358.6" cy="301.4" r="2.3" fill="#d0101a"/>
<circle cx="365" cy="301.8" r="2.3" fill="#d0101a"/>
<circle cx="356.4" cy="299.2" r="2.3" fill="#d0101a"/>
<circle cx="361.9" cy="300" r="2.3" fill="#d0101a"/>
<circle cx="406.5" cy="200.5" r="2.3" fill="#4676c0"/>
<circle cx="411" cy="234" r="2.3" fill="#4676c0"/>
<circle cx="408" cy="246.5" r="2.3" fill="#4676c0"/>
<circle cx="422.5" cy="281.4" r="2.3" fill="#4676c0"/>
<circle cx="414.6" cy="283.2" r="2.3" fill="#4676c0"/>
<circle cx="419.2" cy="285.4" r="2.3" fill="#4676c0"/>
<circle cx="421.4" cy="284.3" r="2.3" fill="#4676c0"/>
<circle cx="411.7" cy="288.6" r="2.3" fill="#4676c0"/>
<circle cx="416.3" cy="288.2" r="2.3" fill="#4676c0"/>
<circle cx="424.9" cy="288.6" r="2.3" fill="#4676c0"/>
<circle cx="409.5" cy="290" r="2.3" fill="#4676c0"/>
<circle cx="406" cy="292" r="2.3" fill="#4676c0"/>
<circle cx="412" cy="293" r="2.3" fill="#4676c0"/>
<circle cx="418" cy="292.5" r="2.3" fill="#4676c0"/>
<circle cx="424" cy="293" r="2.3" fill="#4676c0"/>
<circle cx="428" cy="294" r="2.3" fill="#4676c0"/>
<circle cx="405" cy="296" r="2.3" fill="#4676c0"/>
<circle cx="410" cy="297" r="2.3" fill="#4676c0"/>
<circle cx="415" cy="296.5" r="2.3" fill="#4676c0"/>
<circle cx="421" cy="297" r="2.3" fill="#4676c0"/>
<circle cx="426" cy="297.5" r="2.3" fill="#4676c0"/>
<circle cx="408" cy="300" r="2.3" fill="#4676c0"/>
<circle cx="413" cy="301" r="2.3" fill="#4676c0"/>
<circle cx="418" cy="301.5" r="2.3" fill="#4676c0"/>
<circle cx="423" cy="300.5" r="2.3" fill="#4676c0"/>
<circle cx="428" cy="301" r="2.3" fill="#4676c0"/>
<circle cx="410" cy="302.5" r="2.3" fill="#4676c0"/>
<circle cx="420" cy="303" r="2.3" fill="#4676c0"/>
<line x1="363.3" x2="363.3" y1="285.9" y2="291.5" stroke="#7a7a7a" stroke-width="1.1"/>
<line x1="363.3" x2="363.3" y1="299.8" y2="302" stroke="#7a7a7a" stroke-width="1.1"/>
<rect x="343.3" y="291.5" width="40" height="8.300000000000011" fill="#fff" fill-opacity="0.6" stroke="#505050" stroke-width="0.95"/>
<line x1="343.3" x2="383.3" y1="296.1" y2="296.1" stroke="#1a1a1a" stroke-width="1.4"/>
<line x1="416.5" x2="416.5" y1="282.3" y2="289.7" stroke="#7a7a7a" stroke-width="1.1"/>
<line x1="416.5" x2="416.5" y1="300" y2="302" stroke="#7a7a7a" stroke-width="1.1"/>
<rect x="396.3" y="289.7" width="40.4" height="10.300000000000011" fill="#fff" fill-opacity="0.6" stroke="#505050" stroke-width="0.95"/>
<line x1="396.3" x2="436.7" y1="295.7" y2="295.7" stroke="#1a1a1a" stroke-width="1.4"/>
<rect x="332" y="185" width="117" height="123" fill="none" stroke="#c4c4c4" stroke-width="1"/>
<line x1="330" x2="332" y1="302.0" y2="302.0" stroke="#777" stroke-width="0.8"/>
<text x="329.4" y="305.0" font-size="8.5" font-weight="bold" text-anchor="end" fill="#1a1a1a">0</text>
<line x1="330" x2="332" y1="274.25" y2="274.25" stroke="#777" stroke-width="0.8"/>
<text x="329.4" y="277.25" font-size="8.5" font-weight="bold" text-anchor="end" fill="#1a1a1a">25</text>
<line x1="330" x2="332" y1="246.5" y2="246.5" stroke="#777" stroke-width="0.8"/>
<text x="329.4" y="249.5" font-size="8.5" font-weight="bold" text-anchor="end" fill="#1a1a1a">50</text>
<line x1="330" x2="332" y1="218.75" y2="218.75" stroke="#777" stroke-width="0.8"/>
<text x="329.4" y="221.75" font-size="8.5" font-weight="bold" text-anchor="end" fill="#1a1a1a">75</text>
<line x1="330" x2="332" y1="191.0" y2="191.0" stroke="#777" stroke-width="0.8"/>
<text x="329.4" y="194.0" font-size="8.5" font-weight="bold" text-anchor="end" fill="#1a1a1a">100</text>
<line x1="363.3" x2="363.3" y1="308" y2="310" stroke="#444" stroke-width="0.8"/>
<line x1="416.5" x2="416.5" y1="308" y2="310" stroke="#444" stroke-width="0.8"/>
<text class="n" x="390.5" y="195" font-size="9" text-anchor="middle" fill="#1a1a1a"><tspan font-style="italic">T-test p</tspan> = 0.25</text>
<text transform="translate(311.8,246.5) rotate(-90)" font-size="8.5" font-weight="bold" text-anchor="middle" fill="#1a1a1a">PAKT (%)</text>
<text x="363.3" y="317" font-size="8.5" font-weight="bold" text-anchor="middle" fill="#1a1a1a">RHOAmut</text>
<text x="416.5" y="317" font-size="8.5" font-weight="bold" text-anchor="middle" fill="#1a1a1a">RHOAwt</text>
<text x="390.5" y="326" font-size="8.5" font-weight="bold" text-anchor="middle" fill="#1a1a1a">RHOA</text>
<text x="16.2" y="346.8" class="n" font-family="Liberation Serif, serif" font-size="12.8" fill="#1a1a1a">C.</text>
<rect x="37.5" y="336" width="160.0" height="187" fill="#fff"/>
<line x1="37.5" x2="197.5" y1="493.3125" y2="493.3125" stroke="#eeeeee" stroke-width="0.6"/>
<line x1="37.5" x2="197.5" y1="441.9375" y2="441.9375" stroke="#eeeeee" stroke-width="0.6"/>
<line x1="37.5" x2="197.5" y1="390.5625" y2="390.5625" stroke="#eeeeee" stroke-width="0.6"/>
<line x1="37.5" x2="197.5" y1="339.1875" y2="339.1875" stroke="#eeeeee" stroke-width="0.6"/>
<line x1="37.5" x2="197.5" y1="519.0" y2="519.0" stroke="#eeeeee" stroke-width="1"/>
<line x1="37.5" x2="197.5" y1="467.625" y2="467.625" stroke="#eeeeee" stroke-width="1"/>
<line x1="37.5" x2="197.5" y1="416.25" y2="416.25" stroke="#eeeeee" stroke-width="1"/>
<line x1="37.5" x2="197.5" y1="364.875" y2="364.875" stroke="#eeeeee" stroke-width="1"/>
<line x1="60.5" x2="60.5" y1="336" y2="523" stroke="#eeeeee" stroke-width="1"/>
<line x1="98.6" x2="98.6" y1="336" y2="523" stroke="#eeeeee" stroke-width="1"/>
<line x1="136.5" x2="136.5" y1="336" y2="523" stroke="#eeeeee" stroke-width="1"/>
<line x1="174.5" x2="174.5" y1="336" y2="523" stroke="#eeeeee" stroke-width="1"/>
<circle cx="56.8" cy="420.5" r="2.5" fill="#5da83a" stroke="#2f5a1c" stroke-width="0.6"/>
<circle cx="61.4" cy="424.5" r="2.5" fill="#5da83a" stroke="#2f5a1c" stroke-width="0.6"/>
<circle cx="56.8" cy="436.6" r="2.5" fill="#5da83a" stroke="#2f5a1c" stroke-width="0.6"/>
<circle cx="66.7" cy="445.5" r="2.5" fill="#5da83a" stroke="#2f5a1c" stroke-width="0.6"/>
<circle cx="66" cy="459.3" r="2.5" fill="#5da83a" stroke="#2f5a1c" stroke-width="0.6"/>
<circle cx="53.8" cy="472.8" r="2.5" fill="#5da83a" stroke="#2f5a1c" stroke-width="0.6"/>
<circle cx="66.3" cy="495.2" r="2.5" fill="#5da83a" stroke="#2f5a1c" stroke-width="0.6"/>
<circle cx="139" cy="457.5" r="2.5" fill="#5da83a" stroke="#2f5a1c" stroke-width="0.6"/>
<circle cx="140" cy="466.5" r="2.5" fill="#5da83a" stroke="#2f5a1c" stroke-width="0.6"/>
<circle cx="133" cy="493" r="2.5" fill="#5da83a" stroke="#2f5a1c" stroke-width="0.6"/>
<circle cx="134.5" cy="509.5" r="2.5" fill="#5da83a" stroke="#2f5a1c" stroke-width="0.6"/>
<circle cx="142" cy="511" r="2.5" fill="#5da83a" stroke="#2f5a1c" stroke-width="0.6"/>
<circle cx="60.75" cy="433.4" r="2.5" fill="#e0304a" stroke="#7a1020" stroke-width="0.6"/>
<circle cx="91" cy="435.7" r="2.5" fill="#4472b8" stroke="#1f3560" stroke-width="0.6"/>
<circle cx="94.3" cy="429.4" r="2.5" fill="#4472b8" stroke="#1f3560" stroke-width="0.6"/>
<circle cx="97.9" cy="426.4" r="2.5" fill="#4472b8" stroke="#1f3560" stroke-width="0.6"/>
<circle cx="101.2" cy="424.1" r="2.5" fill="#4472b8" stroke="#1f3560" stroke-width="0.6"/>
<circle cx="102.9" cy="426.4" r="2.5" fill="#4472b8" stroke="#1f3560" stroke-width="0.6"/>
<circle cx="102.5" cy="431.7" r="2.5" fill="#4472b8" stroke="#1f3560" stroke-width="0.6"/>
<circle cx="99.9" cy="440.3" r="2.5" fill="#4472b8" stroke="#1f3560" stroke-width="0.6"/>
<circle cx="104.2" cy="440.3" r="2.5" fill="#4472b8" stroke="#1f3560" stroke-width="0.6"/>
<circle cx="92" cy="444.9" r="2.5" fill="#4472b8" stroke="#1f3560" stroke-width="0.6"/>
<circle cx="96.3" cy="447.2" r="2.5" fill="#4472b8" stroke="#1f3560" stroke-width="0.6"/>
<circle cx="95" cy="459" r="2.5" fill="#4472b8" stroke="#1f3560" stroke-width="0.6"/>
<circle cx="102.5" cy="460" r="2.5" fill="#4472b8" stroke="#1f3560" stroke-width="0.6"/>
<circle cx="101.5" cy="467.6" r="2.5" fill="#4472b8" stroke="#1f3560" stroke-width="0.6"/>
<circle cx="104.8" cy="473.8" r="2.5" fill="#4472b8" stroke="#1f3560" stroke-width="0.6"/>
<circle cx="94.3" cy="476.8" r="2.5" fill="#4472b8" stroke="#1f3560" stroke-width="0.6"/>
<circle cx="97.3" cy="477.1" r="2.5" fill="#4472b8" stroke="#1f3560" stroke-width="0.6"/>
<circle cx="97.9" cy="481" r="2.5" fill="#4472b8" stroke="#1f3560" stroke-width="0.6"/>
<circle cx="94" cy="484.7" r="2.5" fill="#4472b8" stroke="#1f3560" stroke-width="0.6"/>
<circle cx="99.6" cy="487.6" r="2.5" fill="#4472b8" stroke="#1f3560" stroke-width="0.6"/>
<circle cx="98.9" cy="493.6" r="2.5" fill="#4472b8" stroke="#1f3560" stroke-width="0.6"/>
<circle cx="97.9" cy="497.8" r="2.5" fill="#4472b8" stroke="#1f3560" stroke-width="0.6"/>
<circle cx="94.3" cy="500.1" r="2.5" fill="#4472b8" stroke="#1f3560" stroke-width="0.6"/>
<circle cx="96.3" cy="500.1" r="2.5" fill="#4472b8" stroke="#1f3560" stroke-width="0.6"/>
<circle cx="100.2" cy="511" r="2.5" fill="#4472b8" stroke="#1f3560" stroke-width="0.6"/>
<circle cx="95.6" cy="515.6" r="2.5" fill="#4472b8" stroke="#1f3560" stroke-width="0.6"/>
<circle cx="169" cy="437" r="2.5" fill="#4472b8" stroke="#1f3560" stroke-width="0.6"/>
<circle cx="167.5" cy="451" r="2.5" fill="#4472b8" stroke="#1f3560" stroke-width="0.6"/>
<circle cx="169.5" cy="452.5" r="2.5" fill="#4472b8" stroke="#1f3560" stroke-width="0.6"/>
<circle cx="178" cy="455.5" r="2.5" fill="#4472b8" stroke="#1f3560" stroke-width="0.6"/>
<circle cx="173.5" cy="457.5" r="2.5" fill="#4472b8" stroke="#1f3560" stroke-width="0.6"/>
<circle cx="179.5" cy="464" r="2.5" fill="#4472b8" stroke="#1f3560" stroke-width="0.6"/>
<circle cx="168" cy="466.5" r="2.5" fill="#4472b8" stroke="#1f3560" stroke-width="0.6"/>
<circle cx="178.5" cy="466.5" r="2.5" fill="#4472b8" stroke="#1f3560" stroke-width="0.6"/>
<circle cx="179.5" cy="471" r="2.5" fill="#4472b8" stroke="#1f3560" stroke-width="0.6"/>
<circle cx="174.5" cy="475" r="2.5" fill="#4472b8" stroke="#1f3560" stroke-width="0.6"/>
<circle cx="174" cy="481.5" r="2.5" fill="#4472b8" stroke="#1f3560" stroke-width="0.6"/>
<circle cx="173.5" cy="485.5" r="2.5" fill="#4472b8" stroke="#1f3560" stroke-width="0.6"/>
<circle cx="181" cy="486" r="2.5" fill="#4472b8" stroke="#1f3560" stroke-width="0.6"/>
<circle cx="167.5" cy="495" r="2.5" fill="#4472b8" stroke="#1f3560" stroke-width="0.6"/>
<circle cx="171" cy="499" r="2.5" fill="#4472b8" stroke="#1f3560" stroke-width="0.6"/>
<circle cx="171" cy="505" r="2.5" fill="#4472b8" stroke="#1f3560" stroke-width="0.6"/>
<circle cx="171.5" cy="512" r="2.5" fill="#4472b8" stroke="#1f3560" stroke-width="0.6"/>
<circle cx="170" cy="515.5" r="2.5" fill="#4472b8" stroke="#1f3560" stroke-width="0.6"/>
<line x1="60.5" x2="60.5" y1="422.8" y2="431" stroke="#666" stroke-width="1"/>
<line x1="60.5" x2="60.5" y1="462.6" y2="494.9" stroke="#666" stroke-width="1"/>
<rect x="46.1" y="431" width="28.8" height="31.600000000000023" fill="#fff" fill-opacity="0.55" stroke="#505050" stroke-width="0.8"/>
<line x1="46.1" x2="74.9" y1="441.3" y2="441.3" stroke="#222" stroke-width="1.4"/>
<line x1="98.6" x2="98.6" y1="426.4" y2="440.9" stroke="#666" stroke-width="1"/>
<line x1="98.6" x2="98.6" y1="487" y2="514" stroke="#666" stroke-width="1"/>
<rect x="84.19999999999999" y="440.9" width="28.8" height="46.10000000000002" fill="#fff" fill-opacity="0.55" stroke="#505050" stroke-width="0.8"/>
<line x1="84.19999999999999" x2="113.0" y1="468.2" y2="468.2" stroke="#222" stroke-width="1.4"/>
<line x1="136.5" x2="136.5" y1="460" y2="466.5" stroke="#666" stroke-width="1"/>
<line x1="136.5" x2="136.5" y1="509.5" y2="511" stroke="#666" stroke-width="1"/>
<rect x="122.1" y="466.5" width="28.8" height="43.0" fill="#fff" fill-opacity="0.55" stroke="#505050" stroke-width="0.8"/>
<line x1="122.1" x2="150.9" y1="493.25" y2="493.25" stroke="#222" stroke-width="1.4"/>
<line x1="174.5" x2="174.5" y1="437" y2="460.25" stroke="#666" stroke-width="1"/>
<line x1="174.5" x2="174.5" y1="491" y2="515" stroke="#666" stroke-width="1"/>
<rect x="160.1" y="460.25" width="28.8" height="30.75" fill="#fff" fill-opacity="0.55" stroke="#505050" stroke-width="0.8"/>
<line x1="160.1" x2="188.9" y1="474.5" y2="474.5" stroke="#222" stroke-width="1.4"/>
<rect x="37.5" y="336" width="160.0" height="187" fill="none" stroke="#c4c4c4" stroke-width="1"/>
<line x1="35.5" x2="37.5" y1="519.0" y2="519.0" stroke="#444" stroke-width="0.8"/>
<text x="35.0" y="521.3" font-size="6.8" font-weight="bold" text-anchor="end" fill="#1a1a1a">0</text>
<line x1="35.5" x2="37.5" y1="467.625" y2="467.625" stroke="#444" stroke-width="0.8"/>
<text x="35.0" y="469.925" font-size="6.8" font-weight="bold" text-anchor="end" fill="#1a1a1a">50</text>
<line x1="35.5" x2="37.5" y1="416.25" y2="416.25" stroke="#444" stroke-width="0.8"/>
<text x="35.0" y="418.55" font-size="6.8" font-weight="bold" text-anchor="end" fill="#1a1a1a">100</text>
<line x1="35.5" x2="37.5" y1="364.875" y2="364.875" stroke="#444" stroke-width="0.8"/>
<text x="35.0" y="367.175" font-size="6.8" font-weight="bold" text-anchor="end" fill="#1a1a1a">150</text>
<line x1="60.5" x2="60.5" y1="523" y2="525" stroke="#444" stroke-width="0.8"/>
<line x1="98.6" x2="98.6" y1="523" y2="525" stroke="#444" stroke-width="0.8"/>
<line x1="136.5" x2="136.5" y1="523" y2="525" stroke="#444" stroke-width="0.8"/>
<line x1="174.5" x2="174.5" y1="523" y2="525" stroke="#444" stroke-width="0.8"/>
<text class="n" x="44.2" y="347.8" font-size="8.5" fill="#1a1a1a"><tspan font-style="italic">Anova p</tspan> = 0.0311</text>
<path d="M60.5,357.7V355.5H174.5V357.7" fill="none" stroke="#8a8a8a" stroke-width="0.9"/>
<circle cx="117.5" cy="348.8" r="1.05" fill="#222"/>
<path d="M60.5,369.2V367H136.5V369.2" fill="none" stroke="#8a8a8a" stroke-width="0.9"/>
<circle cx="98.5" cy="360.3" r="1.05" fill="#222"/>
<path d="M60.5,379.5V377.3H98.6V379.5" fill="none" stroke="#8a8a8a" stroke-width="0.9"/>
<text class="n" x="79.5" y="374.90000000000003" font-size="8.6" text-anchor="middle" fill="#1a1a1a">ns</text>
<path d="M98.6,390.7V388.5H174.5V390.7" fill="none" stroke="#8a8a8a" stroke-width="0.9"/>
<text class="n" x="136.5" y="386.1" font-size="8.6" text-anchor="middle" fill="#1a1a1a">ns</text>
<path d="M98.6,401.2V399H136.5V401.2" fill="none" stroke="#8a8a8a" stroke-width="0.9"/>
<text class="n" x="117.5" y="396.6" font-size="8.6" text-anchor="middle" fill="#1a1a1a">ns</text>
<path d="M136.5,412.2V410H174.5V412.2" fill="none" stroke="#8a8a8a" stroke-width="0.9"/>
<text class="n" x="155.5" y="407.6" font-size="8.6" text-anchor="middle" fill="#1a1a1a">ns</text>
<text transform="translate(21.2,430) rotate(-90)" font-size="7.7" font-weight="bold" text-anchor="middle" fill="#1a1a1a">pSTAT3 (%)</text>
<text x="60.5" y="531.5" font-size="6.8" font-weight="bold" text-anchor="middle" fill="#1a1a1a">CD30+MUT</text>
<text x="98.6" y="531.5" font-size="6.8" font-weight="bold" text-anchor="middle" fill="#1a1a1a">CD30+WT</text>
<text x="136.5" y="531.5" font-size="6.8" font-weight="bold" text-anchor="middle" fill="#1a1a1a">CD30-MUT</text>
<text x="174.5" y="531.5" font-size="6.8" font-weight="bold" text-anchor="middle" fill="#1a1a1a">CD30-WT</text>
<text x="117.7" y="540.5" font-size="7.75" font-weight="bold" text-anchor="middle" fill="#1a1a1a">CD30 phenotype and mutation status</text>
<text x="236.7" y="346.7" class="n" font-family="Liberation Serif, serif" font-size="12.8" fill="#1a1a1a">D.</text>
<rect x="230.5" y="351.5" width="202.0" height="32.0" fill="#4f81bd"/>
<line x1="230.5" x2="230.5" y1="351.5" y2="510.7" stroke="#2a2a2a" stroke-width="1"/>
<line x1="271.5" x2="271.5" y1="351.5" y2="510.7" stroke="#2a2a2a" stroke-width="1"/>
<line x1="311.5" x2="311.5" y1="351.5" y2="510.7" stroke="#2a2a2a" stroke-width="1"/>
<line x1="351.5" x2="351.5" y1="351.5" y2="510.7" stroke="#2a2a2a" stroke-width="1"/>
<line x1="392.5" x2="392.5" y1="351.5" y2="510.7" stroke="#2a2a2a" stroke-width="1"/>
<line x1="432.5" x2="432.5" y1="351.5" y2="510.7" stroke="#2a2a2a" stroke-width="1"/>
<line x1="230.5" x2="432.5" y1="351.5" y2="351.5" stroke="#2a2a2a" stroke-width="1.1"/>
<line x1="230.5" x2="432.5" y1="383.5" y2="383.5" stroke="#2a2a2a" stroke-width="1.6"/>
<line x1="230.5" x2="432.5" y1="414.7" y2="414.7" stroke="#2a2a2a" stroke-width="1.1"/>
<line x1="230.5" x2="432.5" y1="446.8" y2="446.8" stroke="#2a2a2a" stroke-width="1.1"/>
<line x1="230.5" x2="432.5" y1="478.8" y2="478.8" stroke="#2a2a2a" stroke-width="1.1"/>
<line x1="230.5" x2="432.5" y1="510.7" y2="510.7" stroke="#2a2a2a" stroke-width="1.1"/>
<text transform="translate(291.5,371.6) scale(0.9,1)" font-size="10.2" font-weight="bold" text-anchor="middle" fill="#fff" class="w">AITL</text>
<text transform="translate(331.5,364.8) scale(0.9,1)" font-size="10.2" font-weight="bold" text-anchor="middle" fill="#fff" class="w">ALCL</text>
<text transform="translate(331.5,378.3) scale(0.9,1)" font-size="10.2" font-weight="bold" text-anchor="middle" fill="#fff" class="w">ALK-</text>
<text transform="translate(372.0,364.8) scale(0.9,1)" font-size="10.2" font-weight="bold" text-anchor="middle" fill="#fff" class="w">ALCL</text>
<text transform="translate(372.0,378.3) scale(0.9,1)" font-size="10.2" font-weight="bold" text-anchor="middle" fill="#fff" class="w">ALK+</text>
<text transform="translate(412.5,364.8) scale(0.9,1)" font-size="10.2" font-weight="bold" text-anchor="middle" fill="#fff" class="w">PTCL</text>
<text transform="translate(412.5,378.3) scale(0.9,1)" font-size="10.2" font-weight="bold" text-anchor="middle" fill="#fff" class="w">NOS</text>
<text class="n" x="251.0" y="397.6" font-size="10.3" text-anchor="middle" fill="#1a1a1a">CD30+</text>
<text class="n" x="251.0" y="409.6" font-size="10.3" text-anchor="middle" fill="#1a1a1a">MUT</text>
<text class="n" transform="translate(291.5,405.9) scale(0.95,1)" font-size="15" text-anchor="middle" fill="#1a1a1a">1</text>
<text class="n" transform="translate(331.5,405.9) scale(0.95,1)" font-size="15" text-anchor="middle" fill="#1a1a1a">6</text>
<text class="n" transform="translate(372.0,405.9) scale(0.95,1)" font-size="15" text-anchor="middle" fill="#1a1a1a">1</text>
<text class="n" transform="translate(412.5,405.9) scale(0.95,1)" font-size="15" text-anchor="middle" fill="#1a1a1a">0</text>
<text class="n" x="251.0" y="428.8" font-size="10.3" text-anchor="middle" fill="#1a1a1a">CD30+</text>
<text class="n" x="251.0" y="440.8" font-size="10.3" text-anchor="middle" fill="#1a1a1a">WT</text>
<text class="n" transform="translate(291.5,437.09999999999997) scale(0.95,1)" font-size="15" text-anchor="middle" fill="#1a1a1a">9</text>
<text class="n" transform="translate(331.5,437.09999999999997) scale(0.95,1)" font-size="15" text-anchor="middle" fill="#1a1a1a">6</text>
<text class="n" transform="translate(372.0,437.09999999999997) scale(0.95,1)" font-size="15" text-anchor="middle" fill="#1a1a1a">7</text>
<text class="n" transform="translate(412.5,437.09999999999997) scale(0.95,1)" font-size="15" text-anchor="middle" fill="#1a1a1a">4</text>
<text class="n" x="251.0" y="460.90000000000003" font-size="10.3" text-anchor="middle" fill="#1a1a1a">CD30-</text>
<text class="n" x="251.0" y="472.90000000000003" font-size="10.3" text-anchor="middle" fill="#1a1a1a">MUT</text>
<text class="n" transform="translate(291.5,469.2) scale(0.95,1)" font-size="15" text-anchor="middle" fill="#1a1a1a">3</text>
<text class="n" transform="translate(331.5,469.2) scale(0.95,1)" font-size="15" text-anchor="middle" fill="#1a1a1a">0</text>
<text class="n" transform="translate(372.0,469.2) scale(0.95,1)" font-size="15" text-anchor="middle" fill="#1a1a1a">0</text>
<text class="n" transform="translate(412.5,469.2) scale(0.95,1)" font-size="15" text-anchor="middle" fill="#1a1a1a">2</text>
<text class="n" x="251.0" y="492.90000000000003" font-size="10.3" text-anchor="middle" fill="#1a1a1a">CD30-</text>
<text class="n" x="251.0" y="504.90000000000003" font-size="10.3" text-anchor="middle" fill="#1a1a1a">WT</text>
<text class="n" transform="translate(291.5,501.2) scale(0.95,1)" font-size="15" text-anchor="middle" fill="#1a1a1a">14</text>
<text class="n" transform="translate(331.5,501.2) scale(0.95,1)" font-size="15" text-anchor="middle" fill="#1a1a1a">1</text>
<text class="n" transform="translate(372.0,501.2) scale(0.95,1)" font-size="15" text-anchor="middle" fill="#1a1a1a">0</text>
<text class="n" transform="translate(412.5,501.2) scale(0.95,1)" font-size="15" text-anchor="middle" fill="#1a1a1a">5</text>
</svg>
</body></html>
